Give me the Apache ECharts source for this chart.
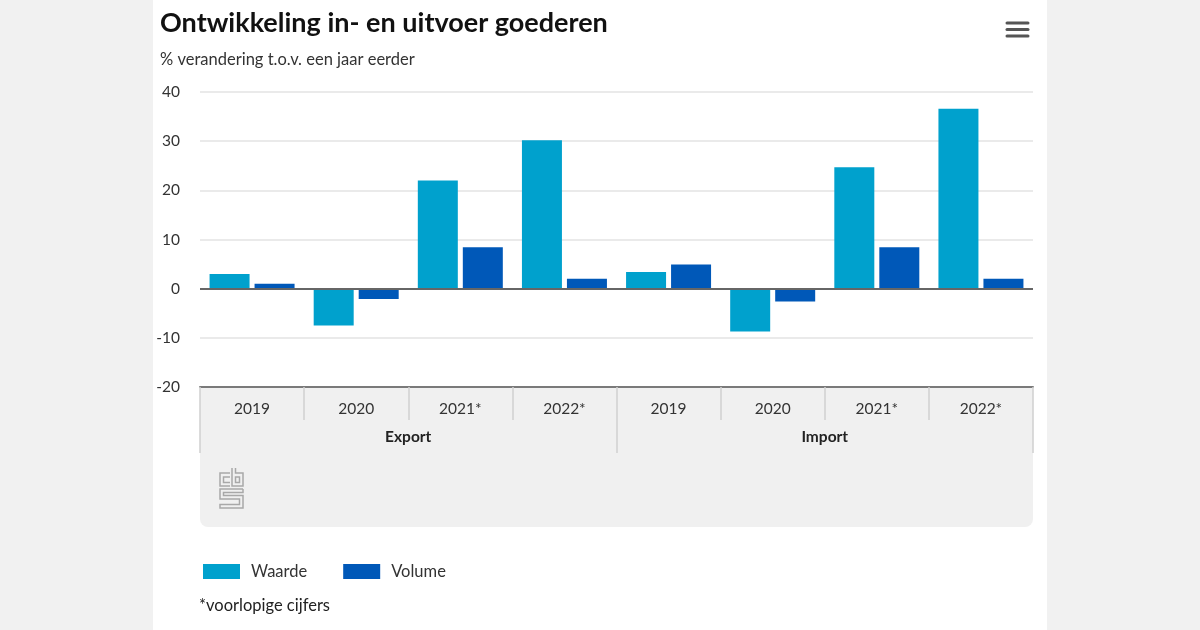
<!DOCTYPE html>
<html>
<head>
<meta charset="utf-8">
<script src="https://cdn.jsdelivr.net/npm/echarts@6/dist/echarts.min.js"></script>
<style>
html,body{margin:0;padding:0;background:#f1f1f1;}
#chart{width:1200px;height:630px;}
</style>
</head>
<body>
<div id="chart"></div>
<script>
var years = ['2019', '2020', '2021*', '2022*'];
var groups = ['Export', 'Import'];
var waarde = [3.0, -7.5, 22.0, 30.2, 3.4, -8.7, 24.7, 36.6];
var volume = [1.0, -2.1, 8.4, 2.0, 4.9, -2.6, 8.4, 2.0];
var yTicks = { min: -20, max: 40, interval: 10 };

var FONT = 'Lato';
var cats = [];
groups.forEach(function (g) { years.forEach(function (y) { cats.push(g + '|' + y); }); });

var chart = echarts.init(document.getElementById('chart'));
chart.setOption({
  backgroundColor: '#f1f1f1',
  animation: false,
  textStyle: { fontFamily: FONT },
  title: {
    text: 'Ontwikkeling in- en uitvoer goederen',
    subtext: '% verandering t.o.v. een jaar eerder',
    left: 155, top: 5,
    itemGap: 14,
    textStyle: { fontFamily: FONT, fontSize: 27, fontWeight: 'bold', color: '#111' },
    subtextStyle: { fontFamily: FONT, fontSize: 16.5, color: '#333' }
  },
  legend: {
    left: 198, top: 558,
    itemWidth: 37, itemHeight: 15, itemGap: 36,
    icon: 'rect',
    textStyle: { fontFamily: FONT, fontSize: 16.5, color: '#333', padding: [0, 0, 0, 6] },
    data: ['Waarde', 'Volume']
  },
  grid: { left: 200, right: 167, top: 92, bottom: 243, containLabel: false },
  xAxis: [{
    type: 'category',
    data: cats,
    position: 'bottom',
    axisLine: { show: true, onZero: false, lineStyle: { color: '#7a7a7a', width: 2 } },
    axisTick: { show: true, length: 33, lineStyle: { color: '#cfcfcf', width: 1.5 } },
    axisLabel: {
      margin: 14, fontSize: 15.5, color: '#333', fontFamily: FONT,
      formatter: function (v) { return v.split('|')[1]; }
    },
    splitLine: { show: false }
  }, {
    type: 'category',
    data: groups,
    position: 'bottom',
    axisLine: { show: false, onZero: false },
    axisTick: { show: true, length: 66, lineStyle: { color: '#cfcfcf', width: 1.5 } },
    axisLabel: { margin: 42, fontSize: 15.5, fontWeight: 'bold', color: '#222', fontFamily: FONT }
  }],
  yAxis: {
    type: 'value',
    min: yTicks.min, max: yTicks.max, interval: yTicks.interval,
    axisLine: { show: false },
    axisTick: { show: false },
    axisLabel: { margin: 20, fontSize: 15.5, color: '#333', fontFamily: FONT },
    splitLine: { lineStyle: { color: '#e3e3e3', width: 1.5 } }
  },
  graphic: [
    { type: 'rect', z: -10, silent: true, shape: { x: 153, y: 0, width: 894, height: 630 }, style: { fill: '#ffffff' } },
    { type: 'rect', z: -5, silent: true, shape: { x: 200, y: 388, width: 833, height: 139, r: [0, 0, 8, 8] }, style: { fill: '#f0f0f0' } },
    // menu icon
    { type: 'line', shape: { x1: 1007, y1: 23, x2: 1028, y2: 23 }, style: { stroke: '#555', lineWidth: 3, lineCap: 'round' } },
    { type: 'line', shape: { x1: 1007, y1: 29.5, x2: 1028, y2: 29.5 }, style: { stroke: '#555', lineWidth: 3, lineCap: 'round' } },
    { type: 'line', shape: { x1: 1007, y1: 36, x2: 1028, y2: 36 }, style: { stroke: '#555', lineWidth: 3, lineCap: 'round' } },
    // cbs logo
    { type: 'polyline', shape: { points: [[230, 473], [220, 473], [220, 486], [230, 486]] }, style: { stroke: '#a8a8a8', lineWidth: 1.5, fill: null } },
    { type: 'polyline', shape: { points: [[230, 477], [223.5, 477], [223.5, 482.5], [230, 482.5]] }, style: { stroke: '#a8a8a8', lineWidth: 1.5, fill: null } },
    { type: 'polyline', shape: { points: [[232, 468], [232, 486], [243, 486], [243, 473], [235.5, 473], [235.5, 468]] }, style: { stroke: '#a8a8a8', lineWidth: 1.5, fill: null } },
    { type: 'rect', shape: { x: 235.5, y: 477, width: 4, height: 5.5 }, style: { stroke: '#a8a8a8', lineWidth: 1.5, fill: null } },
    { type: 'polyline', shape: { points: [[243, 489], [220, 489], [220, 499], [239.5, 499], [239.5, 504.5], [220, 504.5], [220, 508], [243, 508], [243, 495.5], [223.5, 495.5], [223.5, 492.5], [243, 492.5], [243, 489]] }, style: { stroke: '#a8a8a8', lineWidth: 1.5, fill: null } },
    // footnote
    { type: 'text', left: 199, top: 597, style: { text: '*voorlopige cijfers', fontFamily: FONT, fontSize: 16.5, fill: '#222' } }
  ],
  series: [{
    name: 'Waarde',
    type: 'bar',
    xAxisIndex: 0,
    data: waarde,
    barWidth: 40,
    barGap: '12.5%',
    itemStyle: { color: '#00a1cd' },
    markLine: {
      silent: true, symbol: ['none', 'none'], label: { show: false },
      lineStyle: { color: '#666', width: 2, type: 'solid' },
      data: [{ yAxis: 0 }]
    }
  }, {
    name: 'Volume',
    type: 'bar',
    xAxisIndex: 0,
    data: volume,
    barWidth: 40,
    barGap: '12.5%',
    itemStyle: { color: '#0058b8' }
  }]
});
</script>
</body>
</html>
